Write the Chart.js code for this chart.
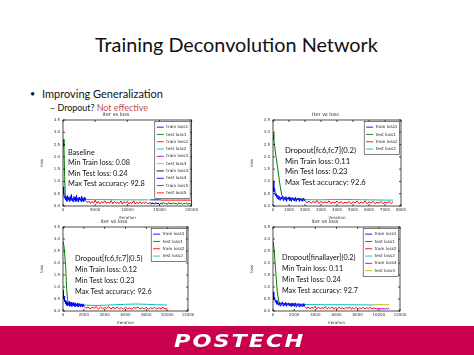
<!DOCTYPE html>
<html><head><meta charset="utf-8">
<script src="https://cdn.jsdelivr.net/npm/chart.js@4.4.0/dist/chart.umd.min.js"></script>
<style>
html,body{margin:0;padding:0;background:#fff;width:474px;height:355px;overflow:hidden;position:relative;font-family:Lato,"Open Sans",sans-serif;}
.t{position:absolute;white-space:nowrap;line-height:1;color:#111;}
canvas{position:absolute;}
#footer{position:absolute;left:0;top:326px;width:474px;height:29px;background:#c8004e;z-index:5;}
.ann{z-index:6;}
</style></head><body>
<script>
// ===== DATA =====
// Chart A: Baseline (x to 20000)
const A_train1_range = [0, 3500];
const A_train1 = [0.78,0.52,0.33,0.41,0.24,0.37,0.19,0.43,0.26,0.34,0.18,0.38,0.23,0.47,0.21,0.31,0.17,0.39,0.25,0.35,0.19,0.44,0.22,0.31,0.16,0.36,0.24,0.29,0.18,0.40,0.21,0.32,0.17,0.35,0.23,0.30];
const A_test1_iter = [0,150,250,350,600,1000,1500,2000,2500,3000,3500];
const A_test1 = [2.72,2.4,1.2,0.45,0.33,0.30,0.29,0.28,0.28,0.27,0.27];
const A_train2_range = [3500, 13000];
const A_train2 = [0.22,0.14,0.20,0.10,0.18,0.12,0.24,0.11,0.19,0.09,0.17,0.13,0.21,0.10,0.16,0.12,0.22,0.09,0.18,0.11,0.15,0.10,0.20,0.08,0.17,0.12,0.19,0.09,0.14,0.11,0.21,0.08,0.16,0.10,0.18,0.09,0.15,0.11,0.17];
const A_test2_iter = [3500,5000,7000,9000,11000,13000];
const A_test2 = [0.27,0.26,0.26,0.25,0.25,0.25];
const A_train3_range = [13000, 13600];
const A_train3 = [0.14,0.09,0.12,0.08];
const A_test3_iter = [13000,13600];
const A_test3 = [0.25,0.25];
const A_train4_range = [13600, 15200];
const A_train4 = [0.15,0.08,0.13,0.07,0.14,0.09,0.12,0.07,0.11];
const A_test4_iter = [13600,15200];
const A_test4 = [0.25,0.25];
const A_train5_range = [15200, 20000];
const A_train5 = [0.13,0.07,0.15,0.09,0.11,0.06,0.14,0.08,0.12,0.07,0.13,0.09,0.10,0.06,0.14,0.08,0.12,0.07,0.11,0.09,0.13,0.06,0.12,0.08,0.10];
const A_test5_iter = [15200,20000];
const A_test5 = [0.24,0.24];

// Chart B: Dropout[fc6,fc7](0.2) (x to 8000)
const B_train1_range = [0, 2000];
const B_train1 = [1.02,0.58,0.72,0.41,0.50,0.31,0.44,0.26,0.39,0.23,0.36,0.28,0.41,0.21,0.34,0.25,0.38,0.19,0.32,0.27,0.37,0.22,0.31,0.19,0.35,0.24,0.30,0.20,0.36,0.19,0.29,0.25,0.33,0.18,0.31,0.22,0.28,0.19,0.32,0.21,0.27];
const B_test1_iter = [0,50,150,300,450,550,700,1000,1500,2000];
const B_test1 = [2.95,2.7,2.2,1.5,0.8,0.42,0.34,0.31,0.29,0.28];
const B_train2_range = [2000, 7500];
const B_train2 = [0.23,0.13,0.20,0.11,0.18,0.14,0.22,0.10,0.19,0.12,0.17,0.13,0.21,0.10,0.16,0.12,0.20,0.11,0.18,0.10,0.15,0.12,0.19,0.09,0.17,0.13,0.20,0.10,0.16,0.11,0.21,0.09,0.17,0.12,0.19,0.10,0.15,0.11,0.18,0.10,0.16,0.12,0.19,0.10,0.17];
const B_test2_iter = [2000,3000,4000,5000,6000,7000,7500];
const B_test2 = [0.26,0.25,0.27,0.26,0.25,0.24,0.24];

// Chart C: Dropout[fc6,fc7](0.5) (x to 12000)
const C_train1_range = [0, 2000];
const C_train1 = [0.86,0.50,0.62,0.38,0.45,0.29,0.40,0.24,0.36,0.22,0.33,0.27,0.39,0.20,0.31,0.24,0.36,0.19,0.30,0.25,0.35,0.21,0.29,0.18,0.33,0.23,0.28,0.19,0.34,0.18,0.27,0.24,0.31,0.17,0.29,0.21,0.26,0.18,0.30,0.20,0.25];
const C_test1_iter = [0,100,250,350,450,600,1000,1500,2000];
const C_test1 = [2.9,2.7,1.9,0.9,0.42,0.34,0.30,0.28,0.27];
const C_train2_range = [2000, 10000];
const C_train2 = [0.20,0.11,0.17,0.09,0.15,0.12,0.19,0.08,0.16,0.10,0.14,0.11,0.18,0.08,0.15,0.10,0.17,0.09,0.14,0.08,0.16,0.10,0.13,0.07,0.15,0.11,0.17,0.08,0.14,0.09,0.16,0.07,0.13,0.10,0.15,0.08,0.14,0.09,0.16,0.08,0.13];
const C_test2_iter = [2000,3000,4000,5000,6000,7000,8000,9000,10000];
const C_test2 = [0.25,0.23,0.24,0.26,0.28,0.29,0.28,0.26,0.25];

// Chart D: Dropout[finallayer](0.2) (x to 12000)
const D_train1_range = [0, 3000];
const D_train1 = [0.80,0.48,0.58,0.36,0.44,0.28,0.39,0.24,0.35,0.21,0.33,0.27,0.38,0.20,0.31,0.24,0.36,0.19,0.30,0.25,0.34,0.21,0.29,0.18,0.33,0.22,0.28,0.19,0.34,0.18,0.27,0.23,0.31,0.17,0.29,0.21,0.26,0.18,0.30,0.20,0.25];
const D_test1_iter = [0,100,250,400,550,700,1000,2000,3000];
const D_test1 = [2.9,2.6,1.7,0.8,0.40,0.33,0.31,0.29,0.28];
const D_train2_range = [3000, 9500];
const D_train2 = [0.19,0.11,0.17,0.09,0.15,0.12,0.20,0.08,0.16,0.10,0.14,0.11,0.18,0.09,0.15,0.10,0.17,0.08,0.14,0.09,0.16,0.10,0.13,0.08,0.15,0.11,0.17,0.08,0.14,0.09,0.16,0.08,0.13,0.10,0.15,0.08,0.14,0.09,0.16,0.08,0.13];
const D_test2_iter = [3000,5000,7000,9500];
const D_test2 = [0.27,0.26,0.26,0.25];
const D_train3_range = [9500, 11000];
const D_train3 = [0.14,0.08,0.12,0.07,0.13,0.09,0.11,0.07,0.12,0.08,0.10,0.07,0.12,0.08,0.11,0.09];
const D_test3_iter = [9500,11000];
const D_test3 = [0.26,0.26];

const yTicks = [0,0.5,1.0,1.5,2.0,2.5,3.0,3.5];
</script>

<div class="t" id="title" data-w="283" data-cy="45" style="left:95px">Training Deconvolution Network</div>
<div class="t" id="bul" data-cy="93" style="left:30px;font-size:9px">•</div>
<div class="t" id="b1" data-w="121" data-cy="93" style="left:42px">Improving Generalization</div>
<div class="t" id="b2" data-w="98" data-cy="108" style="left:50px">– Dropout? <span style="color:#c0504d">Not effective</span></div>

<canvas id="cA" width="160" height="110" style="left:40px;top:110px"></canvas>
<canvas id="cB" width="160" height="110" style="left:250px;top:110px"></canvas>
<canvas id="cC" width="160" height="108" style="left:40px;top:217px"></canvas>
<canvas id="cD" width="160" height="108" style="left:250px;top:217px"></canvas>

<div class="t ann" data-group="A" data-cy="152" style="left:68px">Baseline</div>
<div class="t ann" data-group="A" data-cy="162.5" style="left:68px">Min Train loss: 0.08</div>
<div class="t ann" data-group="A" data-cy="173" style="left:68px">Min Test loss: 0.24</div>
<div class="t ann" data-group="A" data-cy="183.5" style="left:68px" data-ref="1">Max Test accuracy: 92.8</div>

<div class="t ann" data-group="B" data-cy="151" style="left:285px">Dropout[fc6,fc7](0.2)</div>
<div class="t ann" data-group="B" data-cy="161.5" style="left:285px">Min Train loss: 0.11</div>
<div class="t ann" data-group="B" data-cy="172" style="left:285px">Min Test loss: 0.23</div>
<div class="t ann" data-group="B" data-cy="182.5" style="left:285px" data-ref="1">Max Test accuracy: 92.6</div>

<div class="t ann" data-group="C" data-cy="258" style="left:75px">Dropout[fc6,fc7](0.5)</div>
<div class="t ann" data-group="C" data-cy="269" style="left:75px">Min Train loss: 0.12</div>
<div class="t ann" data-group="C" data-cy="280" style="left:75px">Min Test loss: 0.23</div>
<div class="t ann" data-group="C" data-cy="291" style="left:75px" data-ref="1">Max Test accuracy: 92.6</div>

<div class="t ann" data-group="D" data-cy="257.5" style="left:282px">Dropout[finallayer](0.2)</div>
<div class="t ann" data-group="D" data-cy="268.5" style="left:282px">Min Train loss: 0.11</div>
<div class="t ann" data-group="D" data-cy="279.5" style="left:282px">Min Test loss: 0.24</div>
<div class="t ann" data-group="D" data-cy="290.5" style="left:282px" data-ref="1">Max Test accuracy: 92.7</div>

<div id="footer"></div>
<div class="t" id="logo" data-w="133" data-cy="341" style="left:174px;color:#fff;font-family:'DejaVu Sans';font-weight:bold;font-style:italic;letter-spacing:2px;transform:scaleY(0.8);z-index:7">POSTECH</div>

<script>
// ---- text fitting ----
function fit(el, w){ el.style.fontSize='20px'; const cw=el.getBoundingClientRect().width; el.style.fontSize=(20*w/cw)+'px'; }
function place(el){ const h=el.offsetHeight; el.style.top=(parseFloat(el.dataset.cy)-h/2)+'px'; }
['title','b1','b2','logo'].forEach(id=>{const el=document.getElementById(id); fit(el, parseFloat(el.dataset.w));});
const annW = {A:77, B:81, C:77, D:76};
['A','B','C','D'].forEach(g=>{
  const els=[...document.querySelectorAll('[data-group="'+g+'"]')];
  const ref=els.find(e=>e.dataset.ref);
  fit(ref, annW[g]); const fs=ref.style.fontSize;
  els.forEach(e=>e.style.fontSize=fs);
});
document.querySelectorAll('.t').forEach(place);

// ---- chart helpers ----
const COL = {b:'#0000ff', g:'#008000', r:'#ff0000', c:'#00bfbf', m:'#bf00bf', y:'#bfbf00', k:'#000000'};
function trainPts(range, vals){ const n=vals.length; return vals.map((v,i)=>({x: range[0]+(range[1]-range[0])*i/(n-1), y:v})); }
function testPts(iter, vals){ return vals.map((v,i)=>({x: iter[i], y: v})); }
function ds(label, data, color){ return {label, data, borderColor: color, backgroundColor: color, borderWidth: 1, pointRadius: 0, tension: 0, fill:false}; }

const framePlugin = {
  id:'frame',
  afterDatasetsDraw(chart){
    const ctx=chart.ctx, a=chart.chartArea;
    ctx.save();
    ctx.strokeStyle='#000'; ctx.lineWidth=0.7;
    ctx.strokeRect(a.left, a.top, a.right-a.left, a.bottom-a.top);
    const xs=chart.scales.x, ys=chart.scales.y;
    ctx.beginPath();
    xs.ticks.forEach(t=>{const px=xs.getPixelForValue(t.value); ctx.moveTo(px,a.bottom); ctx.lineTo(px,a.bottom-2); ctx.moveTo(px,a.top); ctx.lineTo(px,a.top+2);});
    ys.ticks.forEach(t=>{const py=ys.getPixelForValue(t.value); ctx.moveTo(a.left,py); ctx.lineTo(a.left+2,py); ctx.moveTo(a.right,py); ctx.lineTo(a.right-2,py);});
    ctx.stroke();
    ctx.restore();
  }
};
const legendPlugin = {
  id:'boxLegend',
  afterDraw(chart, args, opts){
    const ctx=chart.ctx, a=chart.chartArea, dss=chart.data.datasets;
    ctx.save();
    ctx.font = opts.fontSize+'px "DejaVu Sans"';
    let tw=0; dss.forEach(d=>tw=Math.max(tw, ctx.measureText(d.label).width));
    const sample=7, pad=2, rowH=opts.rowH;
    const w=pad+sample+2.5+tw+pad, h=pad*2+rowH*dss.length;
    const x=a.right-1.5-w, y=a.top+1.5;
    ctx.fillStyle='#fff'; ctx.fillRect(x,y,w,h);
    ctx.strokeStyle='#000'; ctx.lineWidth=0.5; ctx.strokeRect(x,y,w,h);
    dss.forEach((d,i)=>{
      const cy=y+pad+rowH*(i+0.5);
      ctx.strokeStyle=d.borderColor; ctx.lineWidth=0.9;
      ctx.beginPath(); ctx.moveTo(x+pad,cy); ctx.lineTo(x+pad+sample,cy); ctx.stroke();
      ctx.fillStyle='#222'; ctx.textBaseline='middle'; ctx.fillText(d.label, x+pad+sample+2.5, cy);
    });
    ctx.restore();
  }
};

function makeChart(id, datasets, xMax, xStep, rightPad, xH){
  new Chart(document.getElementById(id), {
    type:'line',
    data:{datasets},
    plugins:[framePlugin, legendPlugin],
    options:{
      responsive:false, animation:false, devicePixelRatio:1,
      layout:{padding:{left:0,right:rightPad,top:0,bottom:0}},
      plugins:{
        legend:{display:false}, tooltip:{enabled:false},
        title:{display:true, text:'iter vs loss', color:'#222', font:{size:5, family:'DejaVu Sans', weight:'normal'}, padding:{top:2,bottom:2}},
        boxLegend:{fontSize:4.2, rowH:7.3}
      },
      scales:{
        x:{type:'linear', min:0, max:xMax,
           afterFit(s){s.height=xH;},
           afterBuildTicks(s){const t=[]; for(let v=0; v<=xMax; v+=xStep) t.push({value:v}); s.ticks=t;},
           grid:{display:false, drawTicks:false}, border:{display:false},
           ticks:{font:{size:4, family:'DejaVu Sans'}, color:'#333', padding:2, maxRotation:0, autoSkip:false, callback:v=>String(v)},
           title:{display:true, text:'iteration', font:{size:4, family:'DejaVu Sans'}, color:'#333', padding:{top:0,bottom:0}}},
        y:{type:'linear', min:0, max:3.5,
           afterFit(s){s.width=23;},
           afterBuildTicks(s){s.ticks=yTicks.map(v=>({value:v}));},
           grid:{display:false, drawTicks:false}, border:{display:false},
           ticks:{font:{size:4, family:'DejaVu Sans'}, color:'#333', padding:3, callback:v=>Number(v).toFixed(1)},
           title:{display:true, text:'loss', font:{size:4, family:'DejaVu Sans'}, color:'#333', padding:{top:0,bottom:3}}}
      }
    }
  });
}

makeChart('cA', [
  ds('train loss1', trainPts(A_train1_range, A_train1), COL.b),
  ds('test loss1', testPts(A_test1_iter, A_test1), COL.g),
  ds('train loss2', trainPts(A_train2_range, A_train2), COL.r),
  ds('test loss2', testPts(A_test2_iter, A_test2), COL.c),
  ds('train loss3', trainPts(A_train3_range, A_train3), COL.m),
  ds('test loss3', testPts(A_test3_iter, A_test3), COL.y),
  ds('train loss4', trainPts(A_train4_range, A_train4), COL.k),
  ds('test loss4', testPts(A_test4_iter, A_test4), COL.b),
  ds('train loss5', trainPts(A_train5_range, A_train5), COL.g),
  ds('test loss5', testPts(A_test5_iter, A_test5), COL.r)
], 20000, 5000, 8, 14);

makeChart('cB', [
  ds('train loss1', trainPts(B_train1_range, B_train1), COL.b),
  ds('test loss1', testPts(B_test1_iter, B_test1), COL.g),
  ds('train loss2', trainPts(B_train2_range, B_train2), COL.r),
  ds('test loss2', testPts(B_test2_iter, B_test2), COL.c)
], 8000, 1000, 9, 14);

makeChart('cC', [
  ds('train loss1', trainPts(C_train1_range, C_train1), COL.b),
  ds('test loss1', testPts(C_test1_iter, C_test1), COL.g),
  ds('train loss2', trainPts(C_train2_range, C_train2), COL.r),
  ds('test loss2', testPts(C_test2_iter, C_test2), COL.c)
], 12000, 2000, 12, 14);

makeChart('cD', [
  ds('train loss1', trainPts(D_train1_range, D_train1), COL.b),
  ds('test loss1', testPts(D_test1_iter, D_test1), COL.g),
  ds('train loss2', trainPts(D_train2_range, D_train2), COL.r),
  ds('test loss2', testPts(D_test2_iter, D_test2), COL.c),
  ds('train loss3', trainPts(D_train3_range, D_train3), COL.m),
  ds('test loss3', testPts(D_test3_iter, D_test3), COL.y)
], 12000, 2000, 10, 14);
</script>
</body></html>
